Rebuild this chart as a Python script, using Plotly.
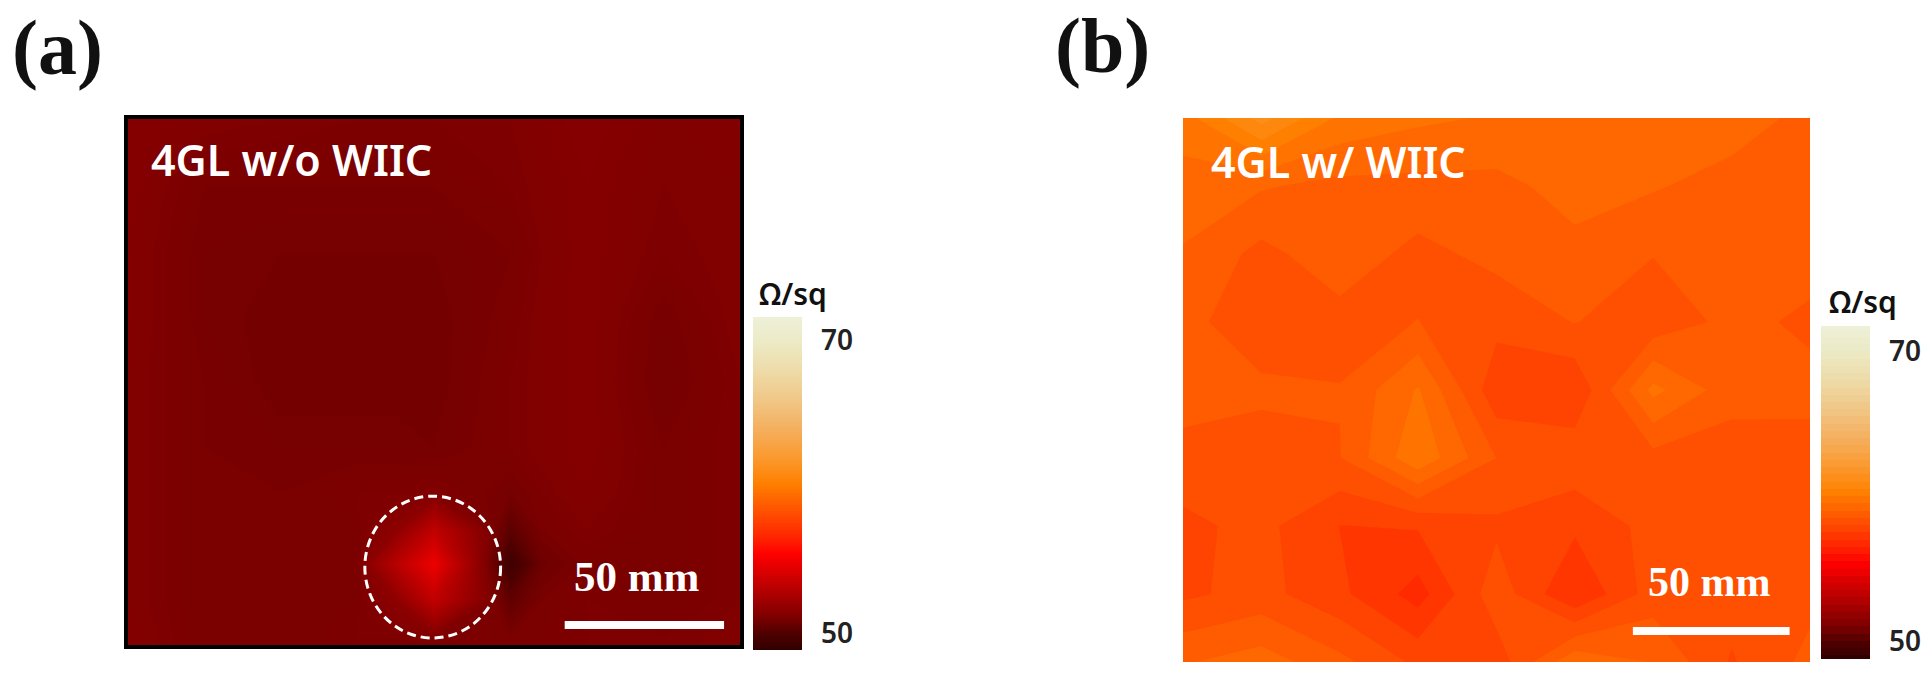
import plotly.graph_objects as go

W, H = 1928, 677

# sheet resistance maps, Ohm/sq, rows listed top to bottom
x_a = [0, 24, 48, 72, 84, 96, 120, 130, 144, 168, 192]
y_a = [165, 144, 123, 103, 82, 62, 47.6, 36, 25.5, 14, 2.3, 0]
z_a = [
    [51.3, 51.2, 51.15, 51.1, 51.1, 51.1, 51.15, 51.25, 51.35, 51.2, 51.2],
    [51.3, 51.0, 51.0, 51.0, 51.0, 51.0, 51.1, 51.2, 51.3, 51.15, 51.2],
    [51.25, 50.95, 50.9, 50.9, 50.9, 50.9, 51.0, 51.15, 51.3, 51.1, 51.2],
    [51.25, 50.95, 50.85, 50.85, 50.85, 50.85, 51.05, 51.2, 51.3, 50.95, 51.2],
    [51.2, 51.0, 50.85, 50.85, 50.85, 50.85, 51.1, 51.2, 51.3, 50.9, 51.15],
    [51.2, 51.0, 50.95, 50.95, 50.95, 50.9, 51.1, 51.2, 51.3, 51.0, 51.15],
    [51.2, 51.0, 51.0, 51.1, 51.1, 51.2, 50.9, 51.1, 51.25, 51.0, 51.15],
    [51.2, 51.0, 51.0, 51.05, 51.6, 53.3, 50.3, 51.0, 51.15, 51.0, 51.15],
    [51.2, 51.0, 51.0, 51.05, 53.0, 54.8, 49.4, 50.7, 51.05, 51.0, 51.15],
    [51.2, 51.0, 51.0, 51.05, 51.6, 53.3, 50.4, 51.0, 51.1, 51.0, 51.15],
    [51.25, 51.0, 51.0, 51.1, 51.1, 51.15, 51.0, 51.05, 51.1, 51.1, 51.2],
    [51.25, 51.0, 51.0, 51.05, 51.05, 51.1, 51.05, 51.05, 51.1, 51.1, 51.2],
]

x_b = [0, 25, 50, 75, 100, 125, 150, 175, 200]
y_b = [173.6, 151.9, 130.2, 108.5, 86.8, 65.1, 43.4, 21.7, 0]
z_b = [
    [59.75, 61.2, 59.9, 59.6, 59.45, 59.5, 59.5, 59.25, 58.85],
    [59.3, 59.05, 58.85, 58.85, 58.85, 59.2, 59.05, 58.8, 58.7],
    [58.95, 58.35, 58.8, 58.35, 58.65, 58.85, 58.52, 58.7, 58.7],
    [58.65, 58.2, 58.32, 58.51, 58.15, 58.52, 58.15, 58.65, 58.4],
    [58.75, 58.6, 58.52, 59.55, 57.65, 57.55, 59.65, 58.7, 58.65],
    [58.3, 58.26, 58.48, 59.9, 58.5, 58.35, 58.32, 58.24, 58.3],
    [57.88, 58.15, 57.49, 57.55, 57.9, 57.6, 58.17, 58.2, 58.25],
    [57.9, 58.18, 57.62, 56.78, 58.32, 56.99, 58.25, 58.2, 58.35],
    [58.95, 59.25, 58.65, 57.88, 57.7, 59.4, 58.97, 57.95, 58.65],
]

ZMIN, ZMAX = 48.84, 71.57
scale_values = [48.84, 50, 51.1, 55.4, 56.5, 60.2, 62, 64, 66, 68, 70, 71.57]
scale_colors = ["#300000", "#500000", "#7e0000", "#ff0000", "#ff2400", "#ff8000",
                "#fb9a30", "#f4b060", "#f0c888", "#eedcaa", "#ecebc8", "#eef0d8"]
colorscale = [[(v - ZMIN) / (ZMAX - ZMIN), c] for v, c in zip(scale_values, scale_colors)]


def cbar(left, top, bottom):
    return dict(
        lenmode="pixels", len=bottom - top, thicknessmode="pixels", thickness=49,
        x=left / W, xanchor="left", y=1 - bottom / H, yanchor="bottom",
        xpad=0, ypad=0, outlinewidth=0, tickvals=[50, 70],
        ticks="outside", ticklen=14, tickcolor="white",
        tickfont=dict(family="Noto Sans", size=28, color="#222222", weight=600),
    )


fig = go.Figure()
fig.add_trace(go.Contour(
    x=x_a, y=y_a, z=z_a, xaxis="x", yaxis="y", zmin=ZMIN, zmax=ZMAX, colorscale=colorscale,
    autocontour=False, contours=dict(start=48.85, end=71.55, size=0.05, showlines=False),
    line=dict(width=0, smoothing=0), colorbar=cbar(753, 317, 650),
))
fig.add_trace(go.Contour(
    x=x_b, y=y_b, z=z_b, xaxis="x2", yaxis="y2", zmin=ZMIN, zmax=ZMAX, colorscale=colorscale,
    autocontour=False, contours=dict(start=49, end=71.5, size=0.5, showlines=False),
    line=dict(width=0, smoothing=0), colorbar=cbar(1821, 326, 659),
))

hidden = dict(showticklabels=False, ticks="", showgrid=False, zeroline=False)
fig.update_layout(
    width=W, height=H, margin=dict(l=0, r=0, t=0, b=0), showlegend=False,
    paper_bgcolor="white", plot_bgcolor="white",
    xaxis=dict(domain=[128 / W, 740 / W], range=[0, 192], showline=True, mirror=True,
               linecolor="black", linewidth=4, **hidden),
    yaxis=dict(domain=[1 - 645 / H, 1 - 119 / H], range=[0, 165], showline=True, mirror=True,
               linecolor="black", linewidth=4, **hidden),
    xaxis2=dict(domain=[1183 / W, 1810 / W], range=[0, 200], anchor="y2", **hidden),
    yaxis2=dict(domain=[1 - 662 / H, 1 - 118 / H], range=[0, 173.6], anchor="x2", **hidden),
)

# defect circle and 50 mm scale bars
fig.add_shape(type="circle", xref="x", yref="y", x0=74.3, x1=116.9, y0=2.2, y1=46.7,
              line=dict(color="white", width=3, dash="9px,5px"))
fig.add_shape(type="line", xref="x", yref="y", x0=137, x1=187, y0=6.3, y1=6.3,
              line=dict(color="white", width=8))
fig.add_shape(type="line", xref="x2", yref="y2", x0=143.5, x1=193.5, y0=9.9, y1=9.9,
              line=dict(color="white", width=8))


def label(text, px, py, family, size, color, weight="bold"):
    fig.add_annotation(text=text, xref="paper", yref="paper", x=px / W, y=1 - py / H,
                       xanchor="left", yanchor="middle", showarrow=False,
                       font=dict(family=family, size=size, color=color, weight=weight))


label("(a)", 10, 48, "Liberation Serif", 78, "#111111")
label("(b)", 1053, 46, "Liberation Serif", 78, "#111111")
label("4GL w/o WIIC", 149, 159, "Noto Sans", 43, "white", 600)
label("4GL w/ WIIC", 1209, 162, "Noto Sans", 43, "white", 600)
label("50 mm", 572, 576, "Liberation Serif", 43, "white")
label("50 mm", 1646, 582, "Liberation Serif", 42, "white")
label("Ω/sq", 757, 293, "Noto Sans", 30, "#111111", 600)
label("Ω/sq", 1827, 301, "Noto Sans", 30, "#111111", 600)

fig.write_html("out.html", config={"displayModeBar": False},
               post_script="document.body.style.margin='0';")
